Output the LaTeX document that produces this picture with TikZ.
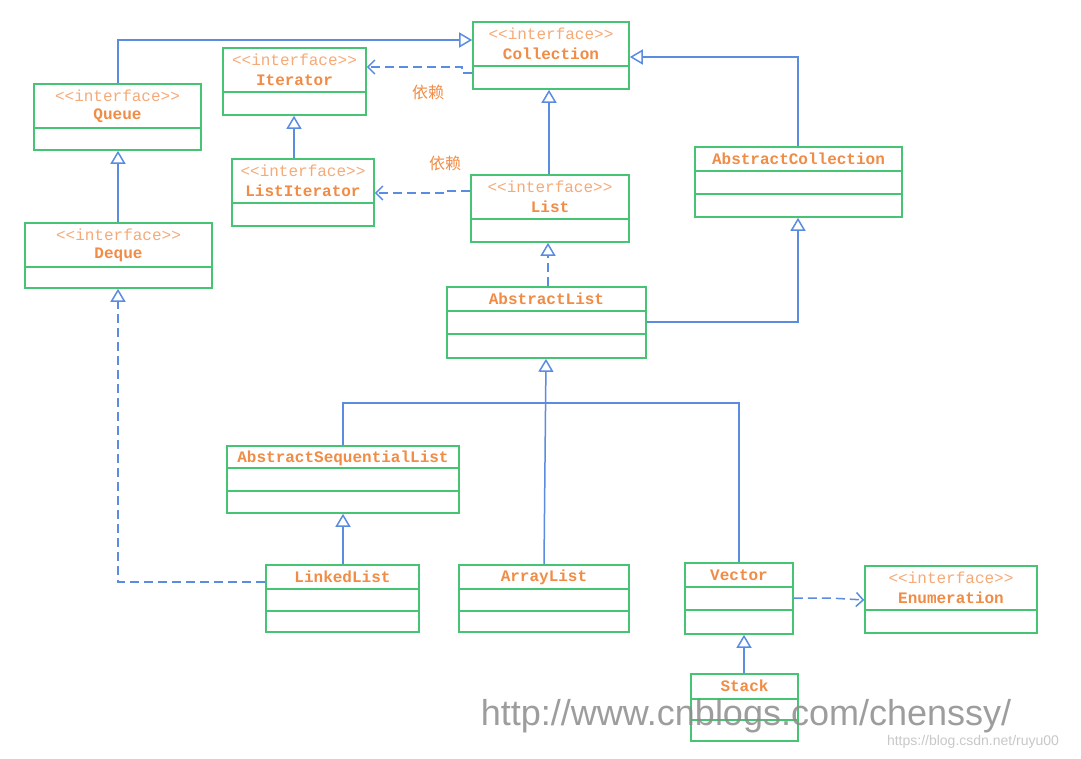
\documentclass[tikz,border=0pt]{standalone}
\usepackage{fontspec}
\setmonofont{Liberation Mono}
\setsansfont{Liberation Sans}
\newfontfamily\cjk{Noto Sans CJK SC}
\usetikzlibrary{arrows.meta}
\definecolor{bgreen}{RGB}{70,195,115}
\definecolor{orng}{RGB}{240,140,70}
\definecolor{lorng}{RGB}{245,170,120}
\definecolor{lblue}{RGB}{90,140,225}
\tikzset{
 box/.style={draw=bgreen,line width=1.6pt,inner sep=0pt},
 nm/.style={text=orng,font=\ttfamily\bfseries\fontsize{16}{16}\selectfont,inner sep=0pt},
 st/.style={text=lorng,font=\ttfamily\fontsize{16}{16}\selectfont,inner sep=0pt},
 dv/.style={draw=bgreen,line width=1.6pt},
 gen/.style={draw=lblue,line width=1.5pt,-{Triangle[open,length=13pt,width=15pt,fill=white]}},
 gline/.style={draw=lblue,line width=1.5pt},
 dep/.style={draw=lblue,line width=1.5pt,dash pattern=on 9pt off 5pt,-{Straight Barb[length=7pt,width=14pt]}},
 cn/.style={text=orng,font=\cjk\fontsize{16}{16}\selectfont}
}
\newcommand\ifc[7]{%
 \node[box,minimum width=#4-#2,minimum height=#5-#3] (#1) at ({(#2+#4)/2},{(#3+#5)/2}) {};
 \draw[dv] (#2,#6)--(#4,#6);
 \node[st] at ({(#2+#4)/2},#3+12) {<<interface>>};
 \node[nm] at ({(#2+#4)/2},#3+32) {#7};}
\newcommand\cls[8]{%
 \node[box,minimum width=#4-#2,minimum height=#5-#3] (#1) at ({(#2+#4)/2},{(#3+#5)/2}) {};
 \draw[dv] (#2,#6)--(#4,#6) (#2,#7)--(#4,#7);
 \node[nm] at ({(#2+#4)/2},#3+12) {#8};}
\begin{document}
\begin{tikzpicture}[x=1pt,y=-1pt]
\useasboundingbox[fill=white] (0,0) rectangle (1081,758);
\ifc{coll}{473}{22}{629}{89}{66}{Collection}
\ifc{iter}{223}{48}{366}{115}{92}{Iterator}
\ifc{queue}{34}{84}{201}{150}{128}{Queue}
\ifc{liter}{232}{159}{374}{226}{203}{ListIterator}
\ifc{list}{471}{175}{629}{242}{219}{List}
\ifc{deque}{25}{223}{212}{288}{267}{Deque}
\ifc{enum}{865}{566}{1037}{633}{610}{Enumeration}
\cls{acoll}{695}{147}{902}{217}{171}{194}{AbstractCollection}
\cls{alist}{447}{287}{646}{358}{311}{334}{AbstractList}
\cls{aseq}{227}{446}{459}{513}{468}{491}{AbstractSequentialList}
\cls{linked}{266}{565}{419}{632}{589}{611}{LinkedList}
\cls{arr}{459}{565}{629}{632}{589}{611}{ArrayList}
\cls{vec}{685}{563}{793}{634}{587}{610}{Vector}
\cls{stack}{691}{674}{798}{741}{699}{720}{Stack}
\draw[gen] (queue.north -| 118,0) -- (118,40) -- (coll.west |- 0,40);
\draw[gen] (list.north -| 549,0) -- (coll.south -| 549,0);
\draw[gen] (acoll.north -| 798,0) -- (798,57) -- (coll.east |- 0,57);
\draw[gen] (liter.north -| 294,0) -- (iter.south -| 294,0);
\draw[gen] (deque.north -| 118,0) -- (queue.south -| 118,0);
\draw[gen] (alist.east |- 0,322) -- (798,322) -- (acoll.south -| 798,0);
\draw[gline] (aseq.north -| 343,0) -- (343,403) -- (739,403) -- (vec.north -| 739,0);
\draw[gen] (arr.north -| 544,0) -- (alist.south -| 546,0);
\draw[gen] (linked.north -| 343,0) -- (aseq.south -| 343,0);
\draw[gen] (stack.north -| 744,0) -- (vec.south -| 744,0);
\draw[gen,dash pattern=on 9pt off 5pt] (alist.north -| 548,0) -- (list.south -| 548,0);
\draw[gen,dash pattern=on 9pt off 5pt] (linked.west |- 0,582) -- (118,582) -- (deque.south -| 118,0);
\draw[dep] (coll.west |- 0,73) -- (462,73) -- (462,67) -- (iter.east |- 0,67);
\draw[dep] (list.west |- 0,191) -- (447,191) -- (447,193) -- (liter.east |- 0,193);
\draw[dep] (vec.east |- 0,598) -- (830,598) -- (enum.west |- 0,600);
\node[cn] (d1) at (428,92) {依赖};
\node[cn] (d2) at (445,163) {依赖};
\node[text={rgb,255:red,140;green,140;blue,140},font=\sffamily\fontsize{36}{36}\selectfont,opacity=0.85] (wm) at (746,716) {http://www.cnblogs.com/chenssy/};
\node[text={rgb,255:red,200;green,200;blue,200},font=\sffamily\fontsize{14}{14}\selectfont] (wm2) at (973,742) {https://blog.csdn.net/ruyu00};
\end{tikzpicture}
\end{document}
